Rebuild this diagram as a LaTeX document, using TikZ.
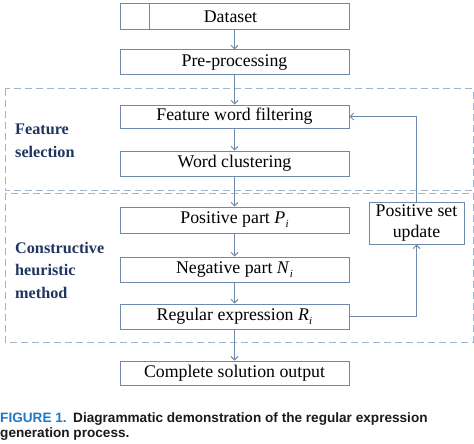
\documentclass[tikz,border=0pt]{standalone}
\usepackage{fontspec}
\setmainfont{Liberation Serif}
\newfontfamily\capfont{Liberation Sans}
\usetikzlibrary{arrows.meta}
\definecolor{edgeblue}{HTML}{6F89AC}
\definecolor{dashblue}{HTML}{9FB5CC}
\definecolor{navy}{HTML}{1F3560}
\definecolor{figblue}{HTML}{1E78C8}
\definecolor{captext}{HTML}{1A1A1A}
\newcommand{\subi}[1]{\textit{#1}\kern0.3pt\raisebox{-4pt}{\fontsize{11}{11}\selectfont\textit{i}}}
\tikzset{
  procbox/.style={draw=edgeblue, line width=1pt, minimum width=229pt, inner sep=0pt,
    font=\fontsize{17.8}{20}\selectfont, text=black},
  flow/.style={draw=edgeblue, line width=1pt, -{Straight Barb[length=3.5pt,width=7pt]}},
  region/.style={draw=dashblue, line width=1pt, dash pattern=on 7pt off 4pt},
  grouplabel/.style={anchor=base west, align=left, inner sep=0pt, text=navy,
    font=\fontsize{16.2}{22.5}\selectfont\bfseries},
}
\begin{document}
\begin{tikzpicture}[x=1pt, y=-1pt]
\useasboundingbox (0,0) rectangle (474,444);
% dashed regions
\draw[region] (5,89) rectangle (473,190);
\draw[region] (5,193) rectangle (473,342);
% boxes
\node[procbox, minimum height=26pt] (data) at (234.5,17) {\hspace*{-8pt}Dataset};
\draw[draw=edgeblue, line width=1pt] (149,4) -- (149,30);
\node[procbox, minimum height=25pt] (pre) at (234.5,62.5) {Pre-processing};
\node[procbox, minimum height=23pt] (fwf) at (234.5,116.5) {Feature word filtering};
\node[procbox, minimum height=25pt] (wc) at (234.5,163.5) {Word clustering};
\node[procbox, minimum height=26pt] (pos) at (234.5,220) {Positive part \subi{P}};
\node[procbox, minimum height=25pt] (neg) at (234.5,269.5) {Negative part \subi{N}};
\node[procbox, minimum height=25pt] (reg) at (234.5,316.5) {Regular expression \subi{R}};
\node[procbox, minimum height=24pt] (out) at (234.5,373) {Complete solution output};
\node[procbox, minimum width=95pt, minimum height=42pt, align=center,
  font=\fontsize{17.8}{20.5}\selectfont] (psu) at (416.5,223) {Positive set\\update};
% labels
\node[grouplabel] (lab1) at (15,157) {Feature\\selection};
\node[grouplabel] (lab2) at (15,298) {Constructive\\heuristic\\method};
% flow
\draw[flow] (data) -- (pre);
\draw[flow] (pre) -- (fwf);
\draw[flow] (fwf) -- (wc);
\draw[flow] (wc) -- (pos);
\draw[flow] (pos) -- (neg);
\draw[flow] (neg) -- (reg);
\draw[flow] (reg) -- (out);
\draw[flow] (reg.east) -| (psu.south);
\draw[flow] (psu.north) |- (fwf.east);
% caption
\node[anchor=base west, align=left, inner sep=0pt, text=captext,
  font=\capfont\bfseries\fontsize{13.6}{14.5}\selectfont] (cap) at (0,437)
  {\makebox[73pt][l]{\color{figblue}FIGURE 1.}Diagrammatic demonstration of the regular expression\\generation process.};
\end{tikzpicture}
\end{document}
